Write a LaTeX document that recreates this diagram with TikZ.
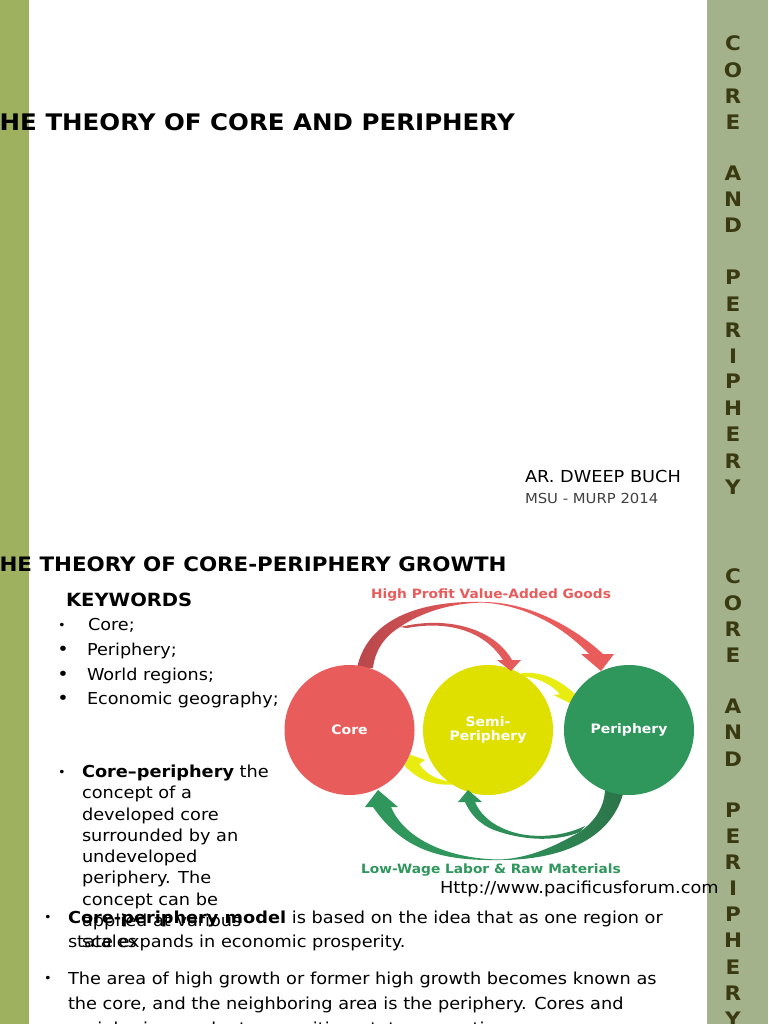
\documentclass[tikz,border=0pt]{standalone}
\usepackage{fontspec}
\setmainfont{DejaVu Sans}[FakeStretch=1.075]
\definecolor{barL}{HTML}{9DB15F}
\definecolor{barR}{HTML}{A4B28C}
\definecolor{bardark}{HTML}{3A3A12}
\definecolor{coreR}{HTML}{E85C5C}
\definecolor{coreD}{HTML}{B8474B}
\definecolor{semiY}{HTML}{DFE000}
\definecolor{yel}{HTML}{E9EC10}
\definecolor{perG}{HTML}{2F965C}
\definecolor{perD}{HTML}{2C7449}
\newcommand\fs[1]{\fontsize{#1}{#1}\selectfont}
\tikzset{
  txt/.style={anchor=base west,inner sep=0pt,outer sep=0pt,text=black},
  body/.style={txt,font=\fs{16.5}},
  bul/.style={anchor=base,inner sep=0pt,font=\fs{12}},
  bigbul/.style={anchor=base,inner sep=0pt,font=\fs{18}},
  letter/.style={anchor=base,inner sep=0pt,text=bardark,font=\bfseries\fs{20}},
  ball/.style={circle,minimum size=130pt,inner sep=0pt,text=white,font=\bfseries\fs{13},align=center},
  glab/.style={anchor=base,inner sep=0pt,font=\bfseries\fs{12.8}},
  zoomtop/.style={shift={(340,595)},x=0.3333pt,y=-0.3333pt},
  zoombot/.style={shift={(360,750)},x=0.3333pt,y=-0.3333pt},
}
\begin{document}
\begin{tikzpicture}[x=1pt,y=-1pt]
\useasboundingbox (0,0) rectangle (768,1024);
\clip (0,0) rectangle (768,1024);
\fill[white] (0,0) rectangle (768,1024);
\fill[barL] (0,0) rectangle (29,1024);
\fill[barR] (707,0) rectangle (768,1024);
% side letters
\foreach \c/\y [count=\i] in {C/51,O/78,R/104,E/130,A/181,N/207,D/233,P/284,E/311,R/337,I/363,P/388,H/415,E/441,R/468,Y/494,C/583,O/610,R/636,E/662,A/713,N/739,D/766,P/817,E/843,R/869,I/895,P/921,H/947,E/974,R/1000,Y/1026}
  \node[letter] (L\i) at (733,\y) {\c};
% titles
\node[txt,font=\bfseries\fs{22.8}] (title1) at (-17,131) {THE THEORY OF CORE AND PERIPHERY};
\node[txt,font=\fs{16.5}] (author) at (525,482) {AR. DWEEP BUCH};
\node[txt,font=\fs{13.8},text=black!75] (msu) at (525,503) {MSU - MURP 2014};
\node[txt,font=\bfseries\fs{19.9}] (title2) at (-15,571) {THE THEORY OF CORE-PERIPHERY GROWTH};
\node[txt,font=\bfseries\fs{18.2}] (kw) at (66,606) {KEYWORDS};
% keyword list
\node[bul] (b1) at (62,629) {•};
\node[body,font=\fs{16.4}] (k1) at (88,630) {Core;};
\node[bigbul] (b2) at (63,655) {•};
\node[body,font=\fs{16.4}] (k2) at (87,655) {Periphery;};
\node[bigbul] (b3) at (63,680) {•};
\node[body,font=\fs{16.4}] (k3) at (87,680) {World regions;};
\node[bigbul] (b4) at (63,704) {•};
\node[body,font=\fs{16.4}] (k4) at (87,704) {Economic geography;};
% diagram: yellow arrows lie under the semi-periphery disc
\begin{scope}[zoomtop]
 \fill[yel] (545,234) .. controls (620,228) and (670,265) .. (708,300)
  -- (693,326) -- (640,300) -- (660,298)
  .. controls (635,268) and (590,245) .. (540,244) -- cycle;
\end{scope}
\begin{scope}[zoombot]
 \fill[yel] (285,103) .. controls (210,110) and (165,80) .. (134,47)
  -- (150,14) -- (196,30) -- (178,42)
  .. controls (200,78) and (245,95) .. (290,96) -- cycle;
\end{scope}
\node[ball,fill=semiY] (semi) at (488,730) {Semi-\\[1pt]Periphery};
% red arrows
\shade[left color=coreD,right color=coreR,middle color=coreR]
  (357,668) .. controls (366,625) and (410,600) .. (483,602)
  .. controls (530,602) and (575,628) .. (603,654)
  -- (614,654) -- (601,671) -- (581,654) -- (589,654)
  .. controls (562,626) and (525,605) .. (483,602.6)
  .. controls (450,603) and (420,613) .. (400,627)
  .. controls (385,636) and (375,650) .. (373,668) -- cycle;
\shade[left color=coreD!70!coreR,right color=coreR]
  (400,627) .. controls (450,615) and (495,630) .. (512,660)
  -- (521,660) -- (511,671) -- (497,660) -- (503,660)
  .. controls (485,632) and (450,620) .. (407,628) -- cycle;
% green arrows
\shade[left color=perG,right color=perD,middle color=perG]
  (605,785) -- (623,785) -- (623,794)
  .. controls (610,840) and (560,860) .. (500,860)
  .. controls (440,861) and (403,850) .. (373,807)
  -- (365,807) -- (378,790) -- (398,807) -- (391,807)
  .. controls (405,840) and (450,859) .. (500,859.5)
  .. controls (530,858) and (555,846) .. (578,833)
  .. controls (592,824) and (604,810) .. (605,790) -- cycle;
\shade[left color=perG,right color=perD!60!perG]
  (580,832) .. controls (555,842) and (525,840) .. (500,832)
  .. controls (485,828) and (472,818) .. (465,802)
  -- (458,802) -- (468,790) -- (482,802) -- (475,802)
  .. controls (480,814) and (490,822) .. (500,827)
  .. controls (525,840) and (560,838) .. (585,826) -- cycle;
\node[ball,fill=coreR] (core) at (349.5,730) {Core};
\node[ball,fill=perG] (per) at (629,730) {Periphery};
\node[glab,text=coreR] (high) at (491,598) {High Profit Value-Added Goods};
\node[glab,text=perG] (low) at (491,873) {Low-Wage Labor \& Raw Materials};
\node[txt,font=\fs{16.5}] (url) at (440,893) {Http://www.pacificusforum.com};
% paragraph
\node[bul] (b5) at (62,776) {•};
\node[body] (p1) at (82,777) {\textbf{Core–periphery} the};
\node[body] (p2) at (82,798) {concept of a};
\node[body] (p3) at (82,820) {developed core};
\node[body] (p4) at (82,841) {surrounded by an};
\node[body] (p5) at (82,862) {undeveloped};
\node[body] (p6) at (82,883) {periphery. The};
\node[body] (p7) at (82,905) {concept can be};
\node[body] (p8) at (82,926) {applied at various};
\node[body] (p9) at (82,947) {scales};
% lower bullets
\node[bul] (b6) at (48,921) {•};
\node[body] (q1) at (68,923) {\textbf{Core-periphery model} is based on the idea that as one region or};
\node[body] (q2) at (68,947) {state expands in economic prosperity.};
\node[bul] (b7) at (48,982) {•};
\node[body] (r1) at (68,984) {The area of high growth or former high growth becomes known as};
\node[body] (r2) at (68,1009) {the core, and the neighboring area is the periphery. Cores and};
\node[body] (r3) at (68,1034) {peripheries can be towns, cities, states, or nations.};
\end{tikzpicture}
\end{document}
